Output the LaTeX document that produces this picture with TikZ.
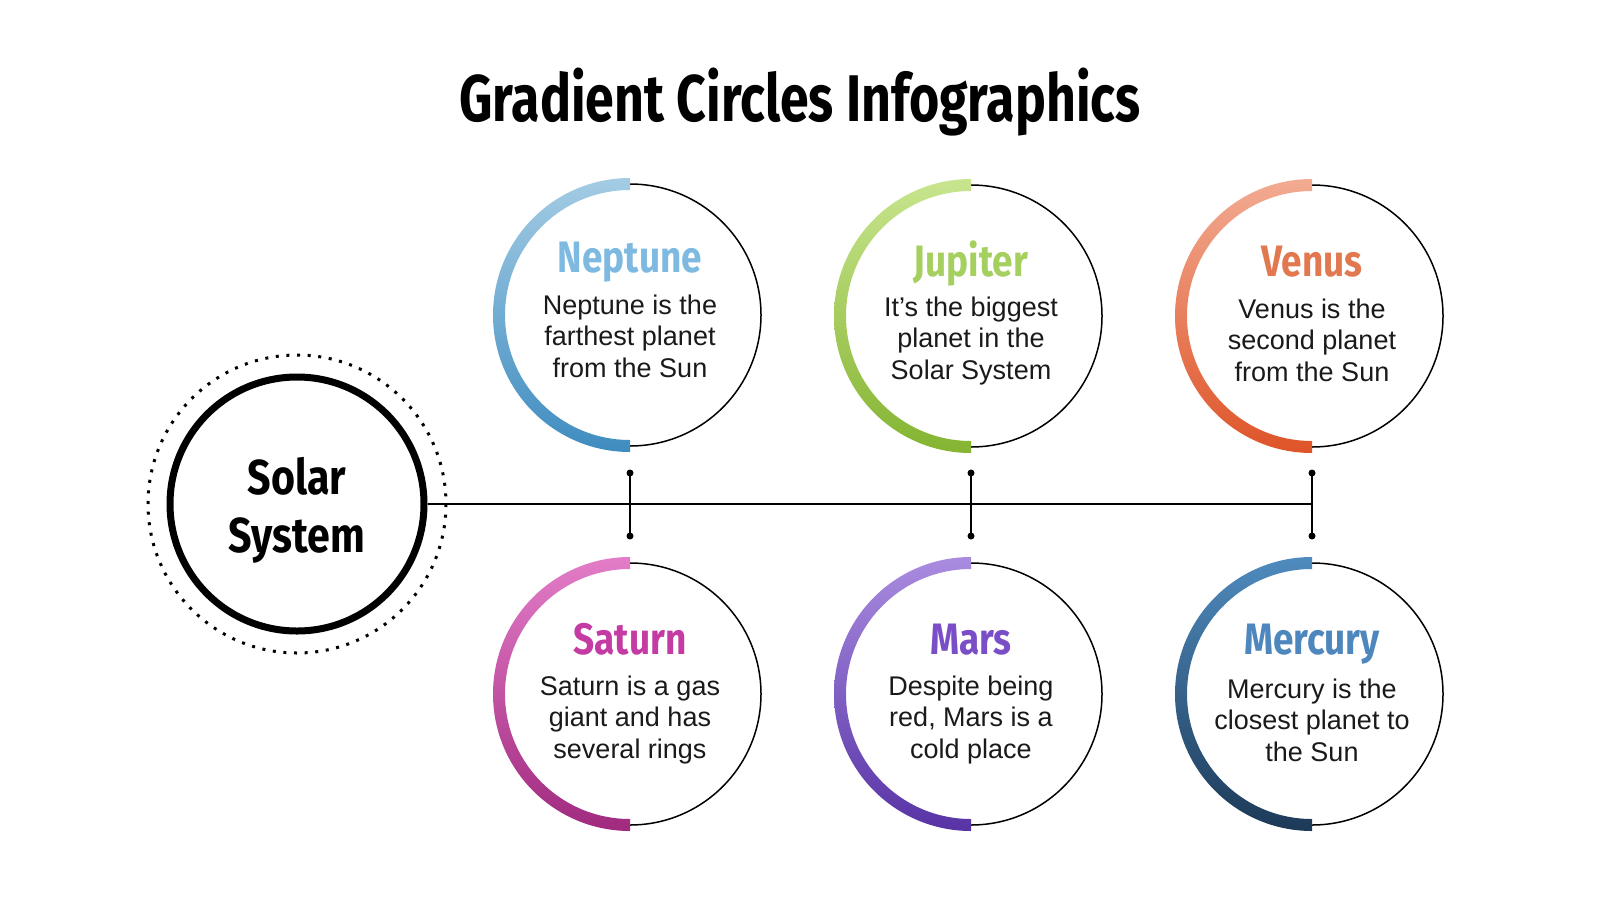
\documentclass[tikz,border=0pt]{standalone}
\usepackage{fontspec}
\setmainfont{Liberation Sans}
\newfontfamily\condfont[FakeStretch=0.84]{Fira Sans}
\newfontfamily\titlefont[FakeStretch=0.785]{Fira Sans}
\definecolor{nepT}{HTML}{A4CCE4}\definecolor{nepB}{HTML}{3F8CC0}\definecolor{nepH}{HTML}{7DB9E0}
\definecolor{jupT}{HTML}{C8E58E}\definecolor{jupB}{HTML}{84B431}\definecolor{jupH}{HTML}{A5CF5E}
\definecolor{venT}{HTML}{F2AB92}\definecolor{venB}{HTML}{DE5428}\definecolor{venH}{HTML}{E2784F}
\definecolor{satT}{HTML}{E37DC8}\definecolor{satB}{HTML}{A02A7E}\definecolor{satH}{HTML}{C43BA3}
\definecolor{marT}{HTML}{A98CE0}\definecolor{marB}{HTML}{5733A5}\definecolor{marH}{HTML}{7A4EC6}
\definecolor{merT}{HTML}{4F8BBE}\definecolor{merB}{HTML}{1D3957}\definecolor{merH}{HTML}{4E87BD}
\definecolor{bodytext}{HTML}{1A1A1A}
\begin{document}
\begin{tikzpicture}[x=1pt,y=-1pt,
  planet/.style={circle, draw=black, line width=1.5pt, minimum size=262pt, inner sep=0pt},
  pname/.style={anchor=base, font=\condfont\bfseries\fontsize{44}{44}\selectfont},
  pdesc/.style={align=center, text=bodytext, font=\fontsize{27}{31.6}\selectfont},
  dotnode/.style={circle, fill=black, inner sep=0pt, minimum size=7pt},
  link/.style={line width=1.5pt, draw=black}]
\useasboundingbox[fill=white] (0,0) rectangle (1600,900);

\node[anchor=base, font=\titlefont\bfseries\fontsize{66}{66}\selectfont] (title) at (800,121) {Gradient Circles Infographics};

\node[circle, draw=black, line width=7pt, minimum size=254pt, inner sep=0pt] (sun) at (297,504) {};
\node[align=center, font=\condfont\bfseries\fontsize{49}{58}\selectfont] (sun-label) at (297,510) {Solar\\System};
\draw[line width=3pt, dash pattern=on 3pt off 7.64pt] (sun.center) circle[radius=149];

\coordinate (hend) at (1312,504);
\draw[link] (sun.east) -- (hend);

\foreach \cx/\vid in {630/a,971/b,1312/c}{
  \coordinate (top\vid) at (\cx,473);
  \coordinate (bot\vid) at (\cx,536);
  \draw[link] (top\vid) -- (bot\vid);
  \node[dotnode] (topdot\vid) at (top\vid) {};
  \node[dotnode] (botdot\vid) at (bot\vid) {};
}

\foreach \id/\cx/\cy/\hy/\by/\tc/\bc/\hc/\pn/\pd in {
  nep/630/315/-43/21/nepT/nepB/nepH/Neptune/{Neptune is the\\farthest planet\\from the Sun},
  jup/971/316/-40/25/jupT/jupB/jupH/Jupiter/{It’s the biggest\\planet in the\\Solar System},
  ven/1312/316/-40/24/venT/venB/venH/Venus/{Venus is the\\second planet\\from the Sun},
  sat/630/694/-40/26/satT/satB/satH/Saturn/{Saturn is a gas\\giant and has\\several rings},
  mar/971/694/-40/26/marT/marB/marH/Mars/{Despite being\\red, Mars is a\\cold place},
  mer/1312/694/-40/26/merT/merB/merH/Mercury/{Mercury is the\\closest planet to\\the Sun}}{
  \node[planet] (\id) at (\cx,\cy) {};
  \shade[top color=\tc, bottom color=\bc] (\id.center) ++(0,-137)
     arc[start angle=-90, end angle=-270, radius=137] -- ++(0,-12)
     arc[start angle=-270, end angle=-90, radius=125] -- cycle;
  \node[pname, text=\hc] (\id-name) at (\cx,\cy+\hy) {\pn};
  \node[pdesc] (\id-text) at (\cx,\cy+\by) {\pd};
}
\end{tikzpicture}
\end{document}
